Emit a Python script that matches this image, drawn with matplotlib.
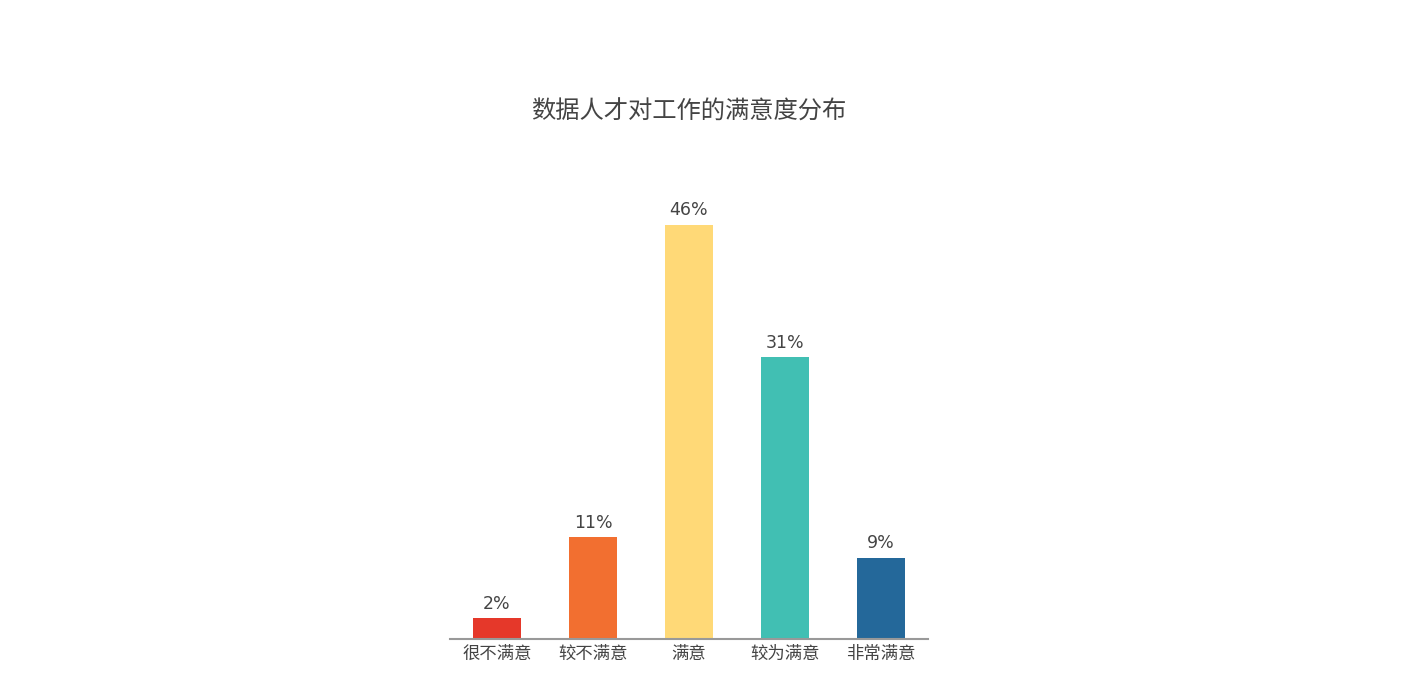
import matplotlib
matplotlib.use("Agg")
import matplotlib.pyplot as plt

plt.rcParams['font.family'] = ['Noto Sans CJK SC', 'DejaVu Sans']

# ── 数据 ──────────────────────────────────────────────
categories = ["很不满意", "较不满意", "满意", "较为满意", "非常满意"]
shares = [2.3, 11.3, 46, 31.3, 9]
labels = ["2%", "11%", "46%", "31%", "9%"]
colors = ["#E5382A", "#F26F30", "#FFD977", "#41BFB3", "#24689A"]

fig = plt.figure(figsize=(14.11, 7), dpi=100)
ax = fig.add_axes([450 / 1411, 61 / 700, 478 / 1411, 450 / 700])

x = range(len(categories))
bars = ax.bar(x, shares, width=0.5, color=colors, zorder=2)
ax.bar_label(bars, labels=labels, padding=4, fontsize=12.5,
             color="#444444", family=['DejaVu Sans'])

ax.set_xlim(-0.49, 4.49)
ax.set_ylim(0, 50)
ax.set_xticks(list(x))
ax.set_xticklabels(categories, fontsize=12.5, color="#444444")
ax.tick_params(axis='x', length=0, pad=4)
ax.set_yticks([])
for s in ['top', 'right', 'left']:
    ax.spines[s].set_visible(False)
ax.spines['bottom'].set_color("#999999")
ax.spines['bottom'].set_linewidth(1.5)
ax.spines['bottom'].set_zorder(3)

fig.text(689 / 1411, 1 - 112 / 700, "数据人才对工作的满意度分布",
         ha='center', va='center', fontsize=17.5, color="#444444")

fig.savefig("out.png", dpi=100)
